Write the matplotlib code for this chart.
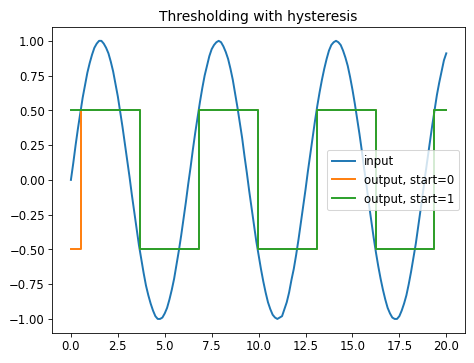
import matplotlib
matplotlib.use('Agg')
import matplotlib.pyplot as plt

plt.rcParams['font.size'] = 11.3
plt.rcParams['lines.linewidth'] = 1.9

# input signal, every 0.125
x_in = [i * 0.125 for i in range(161)]
y_in = [0.00, 0.12, 0.25, 0.37, 0.48, 0.59, 0.68, 0.77,
        0.84, 0.90, 0.95, 0.98, 1.00, 1.00, 0.98, 0.95,
        0.91, 0.85, 0.78, 0.69, 0.60, 0.49, 0.38, 0.26,
        0.14, 0.02, -0.11, -0.23, -0.35, -0.47, -0.57, -0.67,
        -0.76, -0.83, -0.89, -0.94, -0.98, -1.00, -1.00, -0.99,
        -0.96, -0.92, -0.86, -0.79, -0.71, -0.61, -0.51, -0.40,
        -0.28, -0.16, -0.03, 0.09, 0.22, 0.34, 0.45, 0.56,
        0.66, 0.75, 0.82, 0.89, 0.94, 0.97, 0.99, 1.00,
        0.99, 0.96, 0.92, 0.87, 0.80, 0.72, 0.62, 0.52,
        0.41, 0.30, 0.17, 0.05, -0.08, -0.20, -0.32, -0.44,
        -0.54, -0.64, -0.73, -0.81, -0.88, -0.93, -0.97, -0.99,
        -1.00, -0.99, -0.98, -0.93, -0.88, -0.81, -0.72, -0.64,
        -0.54, -0.43, -0.31, -0.19, -0.07, 0.06, 0.18, 0.30,
        0.42, 0.53, 0.63, 0.72, 0.80, 0.87, 0.93, 0.97,
        0.99, 1.00, 0.99, 0.97, 0.93, 0.88, 0.82, 0.74,
        0.65, 0.55, 0.44, 0.33, 0.21, 0.08, -0.04, -0.17,
        -0.29, -0.41, -0.52, -0.62, -0.71, -0.79, -0.86, -0.92,
        -0.96, -0.99, -1.00, -1.00, -0.98, -0.94, -0.89, -0.83,
        -0.75, -0.66, -0.56, -0.46, -0.34, -0.22, -0.10, 0.03,
        0.15, 0.27, 0.39, 0.50, 0.61, 0.70, 0.78, 0.86,
        0.91]

# hysteresis outputs (switch positions)
x_out = [0, 0.52, 3.67, 6.81, 9.95, 13.09, 16.24, 19.37, 20]
out_start0 = [-0.5, 0.5, -0.5, 0.5, -0.5, 0.5, -0.5, 0.5, 0.5]
out_start1 = [0.5, 0.5, -0.5, 0.5, -0.5, 0.5, -0.5, 0.5, 0.5]

fig, ax = plt.subplots(figsize=(6.4, 4.905), dpi=74.07)
fig.subplots_adjust(left=0.11, right=0.981, top=0.925, bottom=0.083)

ax.plot(x_in, y_in, label='input')
ax.plot(x_out, out_start0, drawstyle='steps-post', label='output, start=0')
ax.plot(x_out, out_start1, drawstyle='steps-post', label='output, start=1')
ax.set_title('Thresholding with hysteresis')
ax.legend(loc='center right')

fig.savefig('out.png')
